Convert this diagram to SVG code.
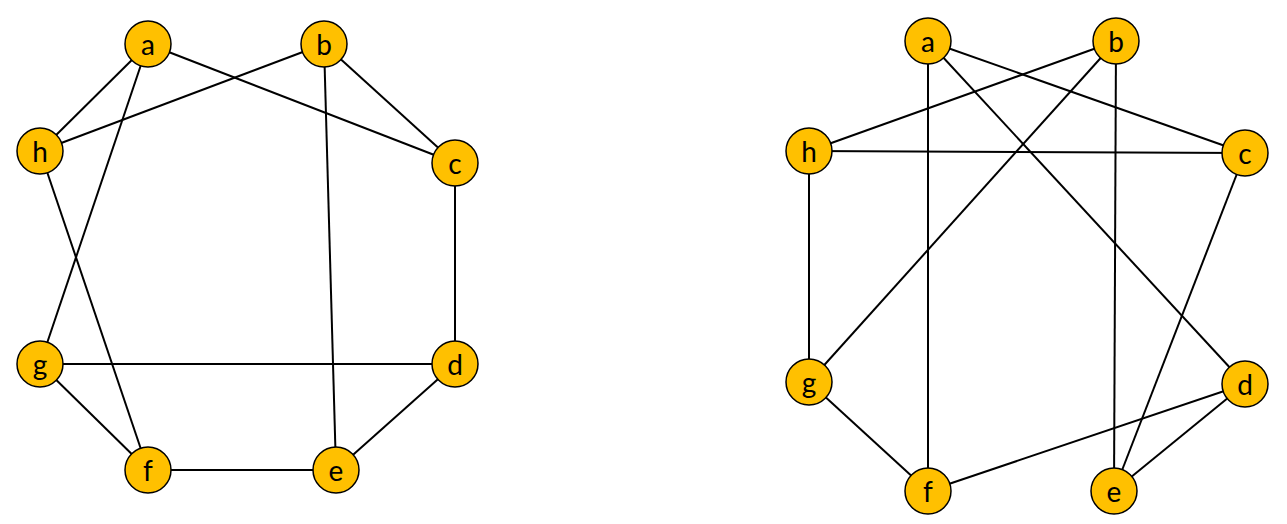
<svg xmlns="http://www.w3.org/2000/svg" width="1287" height="524" viewBox="0 0 1287 524">
<style>
.n circle{fill:#FFC000;stroke:#000;stroke-width:1.5}
.n text{font-family:Lato,"Liberation Sans",sans-serif;font-size:28px;fill:#000;text-anchor:middle;dominant-baseline:central}
#edges line{stroke:#000;stroke-width:2}
</style>
<rect width="1287" height="524" fill="#fff"/>
<g id="edges">
<line x1="148" y1="44" x2="40" y2="151"/><line x1="148" y1="44" x2="40" y2="364"/><line x1="148" y1="44" x2="455" y2="163"/>
<line x1="324" y1="44" x2="40" y2="151"/><line x1="324" y1="44" x2="455" y2="163"/><line x1="324" y1="44" x2="336" y2="470"/>
<line x1="40" y1="151" x2="148" y2="470"/><line x1="455" y1="163" x2="455" y2="364"/><line x1="40" y1="364" x2="455" y2="364"/>
<line x1="40" y1="364" x2="148" y2="470"/><line x1="148" y1="470" x2="336" y2="470"/><line x1="336" y1="470" x2="455" y2="364"/>
<line x1="928" y1="41" x2="928" y2="491"/><line x1="928" y1="41" x2="1245" y2="153"/><line x1="928" y1="41" x2="1245" y2="384"/>
<line x1="1116" y1="41" x2="809" y2="151"/><line x1="1116" y1="41" x2="809" y2="382"/><line x1="1116" y1="41" x2="1114" y2="491"/>
<line x1="809" y1="151" x2="1245" y2="153"/><line x1="809" y1="151" x2="809" y2="382"/><line x1="1245" y1="153" x2="1114" y2="491"/>
<line x1="809" y1="382" x2="928" y2="491"/><line x1="928" y1="491" x2="1245" y2="384"/><line x1="1245" y1="384" x2="1114" y2="491"/>
</g>
<g id="L_a" class="n"><circle cx="148" cy="44" r="23"/><text x="148" y="44">a</text></g>
<g id="L_b" class="n"><circle cx="324" cy="44" r="23"/><text x="324" y="44">b</text></g>
<g id="L_c" class="n"><circle cx="455" cy="163" r="23"/><text x="455" y="163">c</text></g>
<g id="L_d" class="n"><circle cx="455" cy="364" r="23"/><text x="455" y="364">d</text></g>
<g id="L_e" class="n"><circle cx="336" cy="470" r="23"/><text x="336" y="470">e</text></g>
<g id="L_f" class="n"><circle cx="148" cy="470" r="23"/><text x="148" y="470">f</text></g>
<g id="L_g" class="n"><circle cx="40" cy="364" r="23"/><text x="40" y="364">g</text></g>
<g id="L_h" class="n"><circle cx="40" cy="151" r="23"/><text x="40" y="151">h</text></g>
<g id="R_a" class="n"><circle cx="928" cy="41" r="23"/><text x="928" y="41">a</text></g>
<g id="R_b" class="n"><circle cx="1116" cy="41" r="23"/><text x="1116" y="41">b</text></g>
<g id="R_c" class="n"><circle cx="1245" cy="153" r="23"/><text x="1245" y="153">c</text></g>
<g id="R_d" class="n"><circle cx="1245" cy="384" r="23"/><text x="1245" y="384">d</text></g>
<g id="R_e" class="n"><circle cx="1114" cy="491" r="23"/><text x="1114" y="491">e</text></g>
<g id="R_f" class="n"><circle cx="928" cy="491" r="23"/><text x="928" y="491">f</text></g>
<g id="R_g" class="n"><circle cx="809" cy="382" r="23"/><text x="809" y="382">g</text></g>
<g id="R_h" class="n"><circle cx="809" cy="151" r="23"/><text x="809" y="151">h</text></g>
</svg>
